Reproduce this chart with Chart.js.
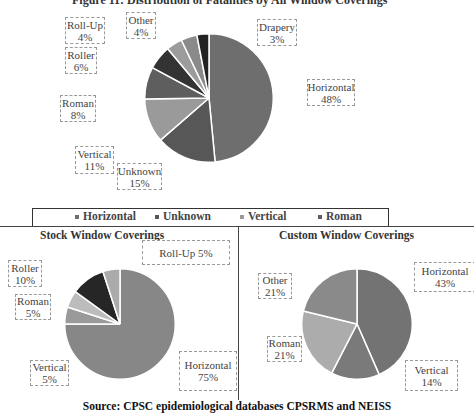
<!DOCTYPE html>
<html>
<head>
<meta charset="utf-8">
<script src="https://cdn.jsdelivr.net/npm/chart.js@4"></script>
<style>
  body { margin: 0; width: 474px; height: 414px; background: #fff; position: relative; overflow: hidden;
         font-family: "Liberation Serif", "DejaVu Serif", serif; color: #333; }
  canvas { position: absolute; }
  .lbl { position: absolute; border: 1px dashed #999; font-size: 11px; text-align: center; line-height: 12px;
         display: flex; align-items: center; justify-content: center; color: #444; background: #fff;
         font-family: "Liberation Serif", "DejaVu Serif", serif; }
  .ttl { position: absolute; font-weight: bold; font-size: 11.5px; color: #333;
         font-family: "Liberation Serif", "DejaVu Serif", serif; }
</style>
</head>
<body>
<div class="ttl" style="left:72px;top:-7px;font-size:12px;">Figure 11: Distribution of Fatalities by All Window Coverings</div>
<canvas id="allChart" style="left:144px;top:33px;width:130px;height:130px;"></canvas>
<canvas id="stockChart" style="left:64px;top:268px;width:112px;height:112px;"></canvas>
<canvas id="customChart" style="left:301px;top:268px;width:112px;height:112px;"></canvas>

<div id="legend" style="position:absolute;left:32px;top:208px;width:355px;height:17px;border:1px solid #333;"></div>
<div style="position:absolute;left:0;top:226px;width:474px;border-top:1px solid #444;"></div>
<div style="position:absolute;left:238px;top:226px;height:174px;border-left:1px solid #444;"></div>
<div class="ttl" style="left:40px;top:229px;">Stock Window Coverings</div>
<div class="ttl" style="left:279px;top:229px;">Custom Window Coverings</div>
<div class="ttl" style="left:0;width:474px;text-align:center;top:400px;font-size:11.5px;color:#111;">Source: CPSC epidemiological databases CPSRMS and NEISS</div>

<div class="lbl" style="left:65px;top:17px;width:38px;height:25px;">Roll-Up<br>4%</div>
<div class="lbl" style="left:126px;top:12px;width:28px;height:25px;">Other<br>4%</div>
<div class="lbl" style="left:257px;top:19px;width:38px;height:25px;">Drapery<br>3%</div>
<div class="lbl" style="left:307px;top:79px;width:46px;height:25px;">Horizontal<br>48%</div>
<div class="lbl" style="left:65px;top:47px;width:30px;height:25px;">Roller<br>6%</div>
<div class="lbl" style="left:60px;top:95px;width:34px;height:25px;">Roman<br>8%</div>
<div class="lbl" style="left:75px;top:146px;width:37px;height:26px;">Vertical<br>11%</div>
<div class="lbl" style="left:117px;top:163px;width:43px;height:25px;">Unknown<br>15%</div>

<div class="lbl" style="left:142px;top:240px;width:86px;height:23px;">Roll-Up 5%</div>
<div class="lbl" style="left:8px;top:260px;width:32px;height:25px;">Roller<br>10%</div>
<div class="lbl" style="left:15px;top:294px;width:34px;height:24px;">Roman<br>5%</div>
<div class="lbl" style="left:30px;top:360px;width:37px;height:24px;">Vertical<br>5%</div>
<div class="lbl" style="left:179px;top:351px;width:56px;height:38px;">Horizontal<br>75%</div>

<div class="lbl" style="left:258px;top:273px;width:32px;height:24px;">Other<br>21%</div>
<div class="lbl" style="left:414px;top:262px;width:60px;height:28px;">Horizontal<br>43%</div>
<div class="lbl" style="left:267px;top:336px;width:33px;height:24px;">Roman<br>21%</div>
<div class="lbl" style="left:405px;top:360px;width:51px;height:29px;">Vertical<br>14%</div>

<script>
const allLabels = ['Horizontal', 'Unknown', 'Vertical', 'Roman', 'Roller', 'Roll-Up', 'Other', 'Drapery'];
const allValues = [48, 15, 11, 8, 6, 4, 4, 3];
const allColors = ['#6e6e6e', '#575757', '#9a9a9a', '#5e5e5e', '#333333', '#9c9c9c', '#8a8a8a', '#222222'];

const stockLabels = ['Horizontal', 'Vertical', 'Roman', 'Roller', 'Roll-Up'];
const stockValues = [75, 5, 5, 10, 5];
const stockColors = ['#878787', '#9a9a9a', '#bcbcbc', '#262626', '#ababab'];

const customLabels = ['Horizontal', 'Vertical', 'Roman', 'Other'];
const customValues = [43, 14, 21, 21];
const customColors = ['#737373', '#7a7a7a', '#acacac', '#8a8a8a'];

const legendLabels = ['Horizontal', 'Unknown', 'Vertical', 'Roman'];

function makePie(id, labels, values, colors) {
  return new Chart(document.getElementById(id), {
    type: 'pie',
    data: {
      labels: labels,
      datasets: [{ data: values, backgroundColor: colors, borderColor: '#fff', borderWidth: 1.5 }]
    },
    options: {
      responsive: false,
      animation: false,
      plugins: { legend: { display: false }, tooltip: { enabled: false } }
    }
  });
}

// サイズ指定はcanvas属性で
['allChart', 'stockChart', 'customChart'].forEach(function (id) {
  const c = document.getElementById(id);
  c.width = parseInt(c.style.width);
  c.height = parseInt(c.style.height);
});

makePie('allChart', allLabels, allValues, allColors);
makePie('stockChart', stockLabels, stockValues, stockColors);
makePie('customChart', customLabels, customValues, customColors);

// 凡例
const legend = document.getElementById('legend');
const legendX = [42, 122, 207, 285];
legendLabels.forEach(function (name, i) {
  const el = document.createElement('div');
  el.style.cssText = 'position:absolute;top:1px;font-size:11.5px;font-weight:bold;color:#444;left:' + legendX[i] + 'px;';
  el.innerHTML = '<span style="display:inline-block;width:4px;height:4px;margin-right:4px;vertical-align:middle;background:' +
    allColors[allLabels.indexOf(name)] + '"></span>' + name;
  legend.appendChild(el);
});
</script>
</body>
</html>
